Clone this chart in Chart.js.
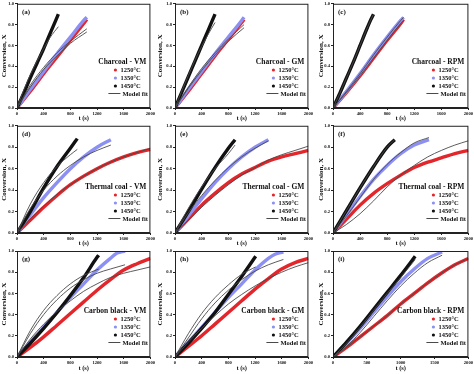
<!DOCTYPE html>
<html>
<head>
<meta charset="utf-8">
<script src="https://cdn.jsdelivr.net/npm/chart.js@4.4.1/dist/chart.umd.min.js"></script>
<style>
  html, body { margin: 0; padding: 0; background: #fff; }
  #wrap { position: relative; width: 474px; height: 374px; overflow: hidden; }
  .cell { position: absolute; }
</style>
</head>
<body>
<div id="wrap"></div>
<script>
// Values: [t (s), conversion X]
const tempLabels = ['1250°C', '1350°C', '1450°C'];
const xTicksDefault = [0, 400, 800, 1200, 1600, 2000];
const xTicksI = [0, 500, 1000, 1500, 2000];
const yTicks = [0, 0.2, 0.4, 0.6, 0.8, 1.0];

// (a) Charcoal - VM
const a1250 = [[0,0],[200,0.16],[400,0.33],[600,0.49],[800,0.65],[1000,0.81],[1047,0.85]];
const a1350 = [[0,0],[200,0.18],[400,0.35],[600,0.52],[800,0.68],[1000,0.84],[1047,0.87]];
const a1450 = [[0,0],[100,0.14],[200,0.29],[300,0.43],[400,0.57],[500,0.72],[560,0.81],[600,0.87],[620,0.9]];
const a1250fit = [[0,0],[200,0.2],[400,0.37],[600,0.5],[800,0.62],[1047,0.73]];
const a1350fit = [[0,0],[200,0.22],[400,0.39],[600,0.53],[800,0.64],[1047,0.76]];
const a1450fit = [[0,0],[100,0.17],[200,0.32],[300,0.45],[400,0.57],[500,0.68],[620,0.78]];

// (b) Charcoal - GM
const b1250 = [[0,0],[200,0.16],[400,0.33],[600,0.5],[800,0.66],[1000,0.82],[1035,0.85]];
const b1350 = [[0,0],[200,0.18],[400,0.35],[600,0.52],[800,0.68],[1000,0.84],[1035,0.87]];
const b1450 = [[0,0],[100,0.15],[200,0.3],[300,0.45],[400,0.6],[500,0.75],[560,0.84],[600,0.9]];
const b1250fit = [[0,0],[200,0.19],[400,0.36],[600,0.51],[800,0.64],[1035,0.77]];
const b1350fit = [[0,0],[200,0.2],[400,0.38],[600,0.53],[800,0.66],[1035,0.8]];
const b1450fit = [[0,0],[100,0.16],[200,0.31],[300,0.46],[400,0.59],[500,0.71],[600,0.82]];

// (c) Charcoal - RPM
const c1250 = [[0,0],[200,0.15],[400,0.31],[600,0.48],[800,0.65],[1000,0.81],[1042,0.85]];
const c1350 = [[0,0],[200,0.16],[400,0.33],[600,0.51],[800,0.68],[1000,0.84],[1042,0.87]];
const c1450 = [[0,0],[100,0.14],[200,0.29],[300,0.44],[400,0.6],[500,0.76],[560,0.85],[598,0.9]];
const c1250fit = [[0,0],[200,0.15],[400,0.31],[600,0.48],[800,0.65],[1000,0.81],[1042,0.84]];
const c1350fit = [[0,0],[200,0.16],[400,0.33],[600,0.51],[800,0.68],[1000,0.84],[1042,0.87]];
const c1450fit = [[0,0],[100,0.14],[200,0.29],[300,0.44],[400,0.6],[500,0.76],[598,0.9]];

// (d) Thermal coal - VM
const d1250 = [[0,0],[200,0.12],[400,0.24],[600,0.35],[800,0.45],[1000,0.53],[1200,0.6],[1400,0.66],[1600,0.71],[1800,0.75],[2000,0.78]];
const d1350 = [[0,0],[200,0.17],[400,0.33],[600,0.47],[800,0.6],[1000,0.71],[1200,0.8],[1407,0.87]];
const d1450 = [[0,0],[200,0.2],[400,0.42],[600,0.62],[800,0.79],[904,0.88]];
const d1250fit = [[0,0],[200,0.13],[400,0.25],[600,0.36],[800,0.45],[1000,0.53],[1200,0.6],[1400,0.66],[1600,0.71],[1800,0.75],[2000,0.79]];
const d1350fit = [[0,0],[200,0.23],[400,0.4],[600,0.53],[800,0.63],[1000,0.71],[1200,0.77],[1407,0.82]];
const d1450fit = [[0,0],[200,0.27],[400,0.47],[600,0.62],[800,0.73],[904,0.78]];

// (e) Thermal coal - GM
const e1250 = [[0,0],[200,0.13],[400,0.26],[600,0.37],[800,0.47],[1000,0.55],[1200,0.61],[1400,0.67],[1600,0.71],[1800,0.74],[2000,0.77]];
const e1350 = [[0,0],[200,0.16],[400,0.32],[600,0.47],[800,0.6],[1000,0.71],[1200,0.8],[1400,0.87]];
const e1450 = [[0,0],[200,0.2],[400,0.41],[600,0.61],[800,0.79],[900,0.87]];
const e1250fit = [[0,0],[200,0.12],[400,0.24],[600,0.35],[800,0.45],[1000,0.54],[1200,0.61],[1400,0.68],[1600,0.73],[1800,0.77],[2000,0.81]];
const e1350fit = [[0,0],[200,0.19],[400,0.35],[600,0.49],[800,0.61],[1000,0.71],[1200,0.79],[1400,0.86]];
const e1450fit = [[0,0],[200,0.23],[400,0.43],[600,0.6],[800,0.74],[900,0.82]];

// (f) Thermal coal - RPM
const f1250 = [[0,0],[200,0.13],[400,0.26],[600,0.37],[800,0.46],[1000,0.54],[1200,0.61],[1400,0.66],[1600,0.7],[1800,0.74],[2000,0.77]];
const f1350 = [[0,0],[200,0.17],[400,0.34],[600,0.5],[800,0.63],[1000,0.74],[1200,0.82],[1417,0.87]];
const f1450 = [[0,0],[200,0.21],[400,0.42],[600,0.62],[800,0.8],[912,0.87]];
const f1250fit = [[0,0],[200,0.08],[400,0.18],[600,0.3],[800,0.43],[1000,0.54],[1200,0.63],[1400,0.71],[1600,0.77],[1800,0.82],[2000,0.86]];
const f1350fit = [[0,0],[200,0.16],[400,0.33],[600,0.5],[800,0.64],[1000,0.75],[1200,0.84],[1417,0.89]];
const f1450fit = [[0,0],[200,0.21],[400,0.42],[600,0.62],[800,0.8],[912,0.87]];

// (g) Carbon black - VM
const g1250 = [[0,0],[200,0.09],[400,0.19],[600,0.3],[800,0.41],[1000,0.52],[1200,0.63],[1400,0.73],[1600,0.82],[1800,0.88],[2000,0.93]];
const g1350 = [[0,0],[200,0.14],[400,0.28],[600,0.42],[800,0.56],[1000,0.69],[1200,0.82],[1400,0.93],[1500,0.98],[1620,1.0]];
const g1450 = [[0,0],[200,0.13],[400,0.27],[600,0.42],[800,0.58],[1000,0.75],[1200,0.94],[1225,0.96]];
const g1250fit = [[0,0],[200,0.17],[400,0.31],[600,0.43],[800,0.53],[1000,0.62],[1200,0.69],[1400,0.75],[1600,0.79],[1800,0.82],[2000,0.85]];
const g1350fit = [[0,0],[200,0.22],[400,0.4],[600,0.54],[800,0.65],[1000,0.73],[1200,0.79],[1400,0.83],[1620,0.87]];
const g1450fit = [[0,0],[200,0.25],[400,0.44],[600,0.58],[800,0.69],[1000,0.77],[1225,0.83]];

// (h) Carbon black - GM
const h1250 = [[0,0],[200,0.1],[400,0.2],[600,0.31],[800,0.42],[1000,0.53],[1200,0.64],[1400,0.74],[1600,0.83],[1800,0.89],[2000,0.93]];
const h1350 = [[0,0],[200,0.14],[400,0.28],[600,0.42],[800,0.56],[1000,0.69],[1200,0.82],[1400,0.93],[1500,0.97],[1625,0.99]];
const h1450 = [[0,0],[200,0.13],[400,0.27],[600,0.42],[800,0.59],[1000,0.76],[1210,0.95]];
const h1250fit = [[0,0],[200,0.14],[400,0.27],[600,0.39],[800,0.5],[1000,0.59],[1200,0.67],[1400,0.74],[1600,0.8],[1800,0.85],[2000,0.89]];
const h1350fit = [[0,0],[200,0.18],[400,0.36],[600,0.51],[800,0.63],[1000,0.73],[1200,0.81],[1400,0.87],[1625,0.92]];
const h1450fit = [[0,0],[200,0.22],[400,0.41],[600,0.56],[800,0.68],[1000,0.78],[1210,0.85]];

// (i) Carbon black - RPM
const i1250 = [[0,0],[200,0.09],[400,0.19],[600,0.29],[800,0.39],[1000,0.5],[1200,0.6],[1400,0.7],[1600,0.79],[1800,0.87],[2000,0.93]];
const i1350 = [[0,0],[200,0.13],[400,0.27],[600,0.42],[800,0.57],[1000,0.71],[1200,0.83],[1400,0.93],[1611,0.99]];
const i1450 = [[0,0],[200,0.14],[400,0.29],[600,0.45],[800,0.61],[1000,0.77],[1214,0.95]];
const i1250fit = [[0,0],[200,0.09],[400,0.19],[600,0.29],[800,0.39],[1000,0.5],[1200,0.6],[1400,0.7],[1600,0.79],[1800,0.87],[2000,0.93]];
const i1350fit = [[0,0],[200,0.1],[400,0.23],[600,0.38],[800,0.53],[1000,0.67],[1200,0.79],[1400,0.89],[1611,0.96]];
const i1450fit = [[0,0],[200,0.13],[400,0.28],[600,0.44],[800,0.6],[1000,0.75],[1214,0.92]];

const panels = [
    { letter: '(a)', title: 'Charcoal - VM',      data: [a1250, a1350, a1450], fits: [a1250fit, a1350fit, a1450fit], ticks: xTicksDefault },
    { letter: '(b)', title: 'Charcoal - GM',      data: [b1250, b1350, b1450], fits: [b1250fit, b1350fit, b1450fit], ticks: xTicksDefault },
    { letter: '(c)', title: 'Charcoal - RPM',     data: [c1250, c1350, c1450], fits: [c1250fit, c1350fit, c1450fit], ticks: xTicksDefault },
    { letter: '(d)', title: 'Thermal coal - VM',  data: [d1250, d1350, d1450], fits: [d1250fit, d1350fit, d1450fit], ticks: xTicksDefault },
    { letter: '(e)', title: 'Thermal coal - GM',  data: [e1250, e1350, e1450], fits: [e1250fit, e1350fit, e1450fit], ticks: xTicksDefault },
    { letter: '(f)', title: 'Thermal coal - RPM', data: [f1250, f1350, f1450], fits: [f1250fit, f1350fit, f1450fit], ticks: xTicksDefault },
    { letter: '(g)', title: 'Carbon black - VM',  data: [g1250, g1350, g1450], fits: [g1250fit, g1350fit, g1450fit], ticks: xTicksDefault },
    { letter: '(h)', title: 'Carbon black - GM',  data: [h1250, h1350, h1450], fits: [h1250fit, h1350fit, h1450fit], ticks: xTicksDefault },
    { letter: '(i)', title: 'Carbon black - RPM', data: [i1250, i1350, i1450], fits: [i1250fit, i1350fit, i1450fit], ticks: xTicksI }
];

const seriesColors = ['#e3262b', '#8c90f2', '#111111'];
const fitColor = '#4a4a4a';
const serif = '"Liberation Serif", "Times New Roman", serif';

// Grid geometry (canvas boxes, fixed axis sizes)
const cols = [
    { x: 0,   w: 156, padL: 0, yW: 17, padR: 4 },
    { x: 156, w: 158, padL: 0, yW: 19, padR: 5 },
    { x: 314, w: 160, padL: 3, yW: 16, padR: 5 }
];
const rows = [
    { y: 0,   h: 122, padT: 2, xH: 14, padB: 0 },
    { y: 122, h: 125, padT: 2, xH: 14, padB: 0 },
    { y: 247, h: 127, padT: 4, xH: 15, padB: 2 }
];

// Frame, panel letter and in-plot legend
const panelDecor = {
    id: 'panelDecor',
    afterDatasetsDraw(chart, args, opts) {
        const { ctx, chartArea: a } = chart;
        ctx.save();
        ctx.strokeStyle = '#222';
        ctx.lineWidth = 1;
        ctx.strokeRect(a.left + 0.5, a.top + 0.5, a.width - 1, a.height - 1);

        ctx.fillStyle = '#111';
        ctx.textBaseline = 'middle';
        ctx.font = `bold 7px ${serif}`;
        ctx.textAlign = 'left';
        ctx.fillText(opts.letter, a.left + 5, a.top + 8);

        ctx.font = `bold 7.5px ${serif}`;
        ctx.textAlign = 'right';
        ctx.fillText(opts.title, a.right - 4, a.bottom - 46);

        ctx.font = `bold 6.5px ${serif}`;
        ctx.textAlign = 'left';
        const rowsY = [a.bottom - 38, a.bottom - 30, a.bottom - 22];
        tempLabels.forEach((lab, k) => {
            ctx.fillStyle = seriesColors[k];
            ctx.beginPath();
            ctx.arc(a.right - 35, rowsY[k], 1.6, 0, Math.PI * 2);
            ctx.fill();
            ctx.fillStyle = '#111';
            ctx.fillText(lab, a.right - 30, rowsY[k]);
        });
        ctx.strokeStyle = fitColor;
        ctx.beginPath();
        ctx.moveTo(a.right - 42, a.bottom - 14.5);
        ctx.lineTo(a.right - 30, a.bottom - 14.5);
        ctx.stroke();
        ctx.fillText('Model fit', a.right - 28, a.bottom - 14);
        ctx.restore();
    }
};

const wrap = document.getElementById('wrap');

panels.forEach((p, idx) => {
    const col = cols[idx % 3];
    const row = rows[Math.floor(idx / 3)];
    const box = document.createElement('div');
    box.className = 'cell';
    box.style.left = col.x + 'px';
    box.style.top = row.y + 'px';
    box.style.width = col.w + 'px';
    box.style.height = row.h + 'px';
    const canvas = document.createElement('canvas');
    box.appendChild(canvas);
    wrap.appendChild(box);

    const datasets = [];
    p.fits.forEach((pts, k) => {
        datasets.push({
            label: tempLabels[k] + ' fit',
            data: pts,
            borderColor: fitColor,
            borderWidth: 0.9,
            pointRadius: 0,
            cubicInterpolationMode: 'monotone',
            order: 0
        });
    });
    p.data.forEach((pts, k) => {
        datasets.push({
            label: tempLabels[k],
            data: pts,
            borderColor: seriesColors[k],
            borderWidth: 3.4,
            pointRadius: 0,
            cubicInterpolationMode: 'monotone',
            order: 3 - k
        });
    });

    const tickFont = { family: serif, size: 4.6, weight: 'bold' };

    new Chart(canvas, {
        type: 'line',
        data: { datasets },
        options: {
            responsive: true,
            maintainAspectRatio: false,
            animation: false,
            layout: { padding: { left: col.padL, right: col.padR, top: row.padT, bottom: row.padB } },
            plugins: {
                legend: { display: false },
                tooltip: { enabled: false },
                panelDecor: { letter: p.letter, title: p.title }
            },
            scales: {
                x: {
                    type: 'linear',
                    min: 0,
                    max: 2000,
                    afterBuildTicks: (s) => { s.ticks = p.ticks.map(v => ({ value: v })); },
                    afterFit: (s) => { s.height = row.xH; },
                    ticks: { font: tickFont, color: '#111', padding: 1, maxRotation: 0, autoSkip: false, callback: v => String(v) },
                    grid: { drawOnChartArea: false, tickLength: 2, color: '#222' },
                    border: { color: '#222' },
                    title: { display: true, text: 't (s)', color: '#111', font: { family: serif, size: 6.5, weight: 'bold' }, padding: 0 }
                },
                y: {
                    min: 0,
                    max: 1,
                    afterBuildTicks: (s) => { s.ticks = yTicks.map(v => ({ value: v })); },
                    afterFit: (s) => { s.width = col.yW; },
                    ticks: { font: tickFont, color: '#111', padding: 1, callback: v => v.toFixed(1) },
                    grid: { drawOnChartArea: false, tickLength: 2, color: '#222' },
                    border: { color: '#222' },
                    title: { display: true, text: 'Conversion, X', color: '#111', font: { family: serif, size: 7, weight: 'bold' }, padding: 0 }
                }
            }
        },
        plugins: [panelDecor]
    });
});
</script>
</body>
</html>
